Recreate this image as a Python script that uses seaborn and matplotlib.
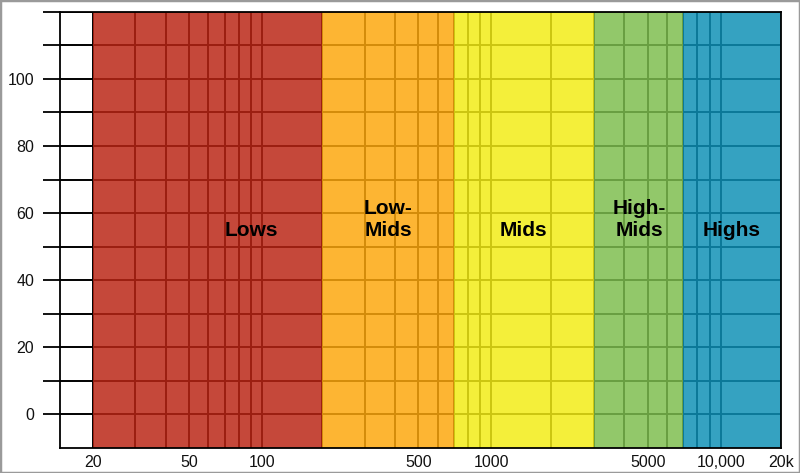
import numpy as np
import matplotlib
matplotlib.use("Agg")
import matplotlib.pyplot as plt
import seaborn as sns
from matplotlib.ticker import FixedLocator, FixedFormatter, NullFormatter
from matplotlib.patches import Rectangle

# frequency bands (Hz)
band_names = ["Lows", "Low-\nMids", "Mids", "High-\nMids", "Highs"]
band_edges = [20, 200, 700, 3000, 7000, 20000]
label_freqs = [90, 375, 1450, 4600, 11350]
label_level = 52

x_major = [20, 50, 100, 500, 1000, 5000, 10000, 20000]
x_labels = ["20", "50", "100", "500", "1000", "5000", "10,000", "20k"]
x_minor = [30, 40, 60, 70, 80, 90, 200, 300, 400, 600, 700, 800, 900,
           2000, 3000, 4000, 6000, 7000, 8000, 9000]
y_major = [0, 20, 40, 60, 80, 100]
y_minor = [10, 30, 50, 70, 90, 110, 120]

band_colors = ["#BA2514", "#FDA70C", "#F3EC14", "#7DBE4E", "#0E90B6"]

# the source chart squeezes the 1->2 part of every decade
SQUEEZE = 0.262
LOG2 = np.log10(2)


def fwd(x):
    with np.errstate(divide="ignore", invalid="ignore"):
        lg = np.log10(np.clip(np.asarray(x, dtype=float), 1e-9, None))
    k = np.floor(lg)
    return k + np.interp(lg - k, [0, LOG2, 1], [0, SQUEEZE, 1])


def inv(p):
    p = np.asarray(p, dtype=float)
    k = np.floor(p)
    return 10 ** (k + np.interp(p - k, [0, SQUEEZE, 1], [0, LOG2, 1]))


sns.set_theme(style="white")
plt.rcParams["font.family"] = ["Liberation Sans", "DejaVu Sans"]

fig, ax = plt.subplots(figsize=(8, 4.73), dpi=100)
fig.subplots_adjust(left=0.075, right=0.976, top=0.975, bottom=0.053)

ax.set_xscale("function", functions=(fwd, inv))
ax.set_xlim(13.7, 20000)
ax.set_ylim(-10, 120)

for lo, hi, c in zip(band_edges[:-1], band_edges[1:], band_colors):
    ax.axvspan(lo, hi, color=c, alpha=0.84, lw=0, zorder=1)

for name, fx in zip(band_names, label_freqs):
    ax.text(fx, label_level, name, ha="center", va="bottom",
            fontsize=15, fontweight="bold", color="black", zorder=3)

ax.xaxis.set_major_locator(FixedLocator(x_major))
ax.xaxis.set_major_formatter(FixedFormatter(x_labels))
ax.xaxis.set_minor_locator(FixedLocator(x_minor))
ax.xaxis.set_minor_formatter(NullFormatter())
ax.yaxis.set_major_locator(FixedLocator(y_major))
ax.yaxis.set_minor_locator(FixedLocator(y_minor))

ax.set_axisbelow(True)
ax.grid(True, which="both", color="black", lw=1.4)

ax.tick_params(axis="x", which="both", length=0, pad=5, labelsize=11.5,
               labelcolor="#111111")
ax.tick_params(axis="y", which="both", direction="out", length=12.5,
               width=1.3, color="black", left=True, pad=6, labelsize=11.5,
               labelcolor="#111111")

for s in ax.spines.values():
    s.set_visible(True)
    s.set_color("black")
    s.set_linewidth(1.3)

fig.patches.append(Rectangle((0, 0), 1, 1, transform=fig.transFigure,
                             fill=False, edgecolor="#9a9a9a", lw=2.5))

fig.savefig("out.png", dpi=100)
